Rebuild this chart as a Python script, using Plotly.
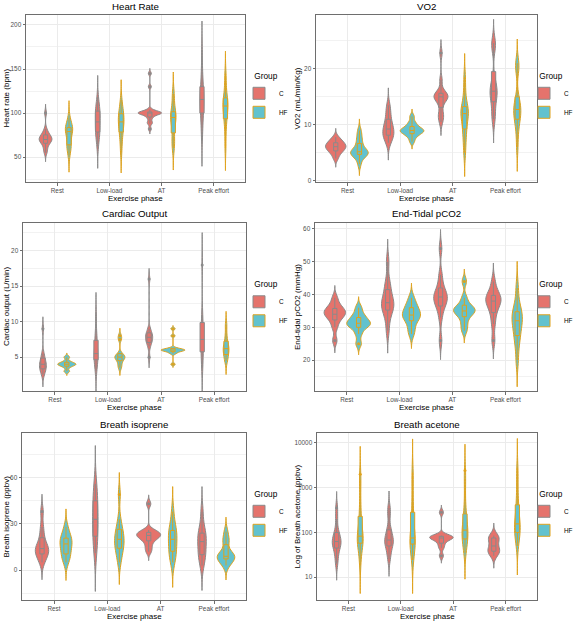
import numpy as np
import plotly.graph_objects as go

phases = ["Rest", "Low-load", "AT", "Peak effort"]
groups = ["C", "HF"]

# samples, one list per exercise phase
hr_c = [
    [55, 58, 62, 65, 66, 68, 69, 70, 70, 71, 72, 73, 75, 76, 78, 82, 100],
    [62, 70, 75, 78, 80, 84, 87, 90, 95, 98, 100, 103, 105, 110, 118],
    [82, 88, 90, 94, 96, 98, 99, 100, 100, 100, 100, 101, 101, 102, 104, 130, 145],
    [72, 85, 95, 100, 105, 110, 114, 117, 120, 124, 130, 138, 150, 172],
]
hr_hf = [
    [52, 58, 62, 63, 65, 70, 75, 78, 80, 81, 82, 83, 84, 86, 90, 95],
    [55, 65, 72, 78, 80, 85, 88, 90, 92, 95, 97, 100, 103, 108, 115],
    [60, 65, 68, 75, 85, 90, 93, 95, 96, 97, 100, 102, 110, 120, 122],
    [60, 75, 88, 92, 98, 102, 106, 108, 110, 112, 115, 118, 125, 135, 145],
]
vo2_c = [
    [4.0, 4.8, 5.2, 5.5, 5.8, 6.0, 6.2, 6.4, 6.6, 7.0, 7.2, 7.8],
    [6.8, 7.5, 8.0, 8.3, 8.6, 9.0, 9.5, 10.0, 10.5, 11.5, 12.5, 13.5],
    [10.5, 11.5, 12.0, 13.5, 14.5, 14.8, 15.0, 15.0, 15.2, 15.5, 16.0, 18.0, 22.8],
    [11.0, 11.5, 13.0, 14.5, 15.0, 15.5, 16.0, 16.5, 17.0, 18.0, 24.0, 24.3, 24.6],
]
vo2_hf = [
    [3.0, 4.2, 4.5, 4.8, 5.0, 5.0, 5.2, 5.4, 5.8, 6.5, 7.2, 8.0, 9.0],
    [7.0, 7.8, 8.2, 8.5, 8.7, 8.9, 9.0, 9.1, 9.3, 9.6, 10.0, 10.5, 11.5],
    [5.0, 7.0, 8.5, 9.5, 10.5, 11.5, 12.0, 12.3, 12.6, 13.0, 14.0, 16.0, 18.5],
    [6.0, 8.5, 10.0, 11.0, 11.5, 12.0, 12.5, 13.0, 13.5, 14.0, 15.0, 20.0, 20.5, 21.0],
]
co_c = [
    [2.5, 3.0, 3.3, 3.5, 3.8, 4.0, 4.2, 4.5, 5.0, 5.5, 9.0],
    [3.0, 4.0, 4.5, 5.0, 5.0, 5.5, 6.0, 7.0, 7.5, 8.5, 11.0],
    [5.0, 6.5, 7.0, 7.3, 7.5, 7.8, 8.0, 8.2, 8.5, 9.0, 16.0],
    [3.5, 5.0, 6.0, 7.0, 7.5, 8.0, 9.5, 11.0, 18.0],
]
co_hf = [
    [3.0, 3.0, 3.5, 3.7, 3.8, 3.9, 4.0, 4.0, 4.0, 4.1, 4.2, 4.3, 4.5, 5.0, 5.0],
    [3.5, 4.0, 4.5, 4.8, 5.0, 5.0, 5.2, 5.5, 7.5, 8.0],
    [4.0, 5.5, 5.7, 5.85, 5.95, 6.0, 6.0, 6.05, 6.15, 6.3, 8.0, 9.0],
    [4.5, 5.0, 5.5, 6.0, 6.2, 6.5, 7.0, 8.0, 9.5],
]
pco2_c = [
    [26, 30, 32, 33, 34, 34, 35, 35, 36, 37, 39],
    [29, 33, 35, 36, 37, 37.5, 38, 40, 42, 44, 50],
    [26, 33, 36, 37, 38, 39, 39.5, 40, 41, 43, 46, 54],
    [26, 31, 34, 36, 37, 38, 38.5, 39, 40, 41, 44],
]
pco2_hf = [
    [25, 28, 30, 30.5, 31, 31.5, 32, 33, 34, 36],
    [28, 30, 32, 33, 33.5, 34, 35, 36, 37, 39],
    [29, 31, 33, 34, 35, 35, 35.5, 36, 37, 39, 44],
    [20, 25, 27, 29, 31, 32, 33, 34, 35, 37, 42],
]
iso_c = [
    [5, 8, 10, 12, 13, 14, 15, 18, 22, 28, 38],
    [11, 17, 22, 27, 31, 35, 40, 45, 50, 56],
    [12, 15, 18, 20, 21, 22, 23, 23, 24, 25, 26, 43],
    [3, 8, 10, 13, 17, 20, 22, 24, 28, 38],
]
iso_hf = [
    [5, 8, 10, 12, 15, 17, 18, 20, 21, 24, 28],
    [5, 10, 14, 15, 18, 20, 22, 25, 27, 33, 49],
    [5, 8, 12, 13, 17, 20, 22, 25, 26, 30, 38],
    [3, 5, 7, 8, 9, 9, 10, 12, 18, 20, 25],
]
ace_c = [
    [20, 30, 40, 50, 55, 60, 65, 75, 90, 110, 200, 350],
    [25, 35, 45, 55, 60, 65, 70, 85, 100, 130, 250, 350],
    [30, 45, 55, 65, 72, 75, 78, 80, 82, 85, 280],
    [30, 35, 38, 40, 45, 55, 65, 75, 80, 85],
]
ace_hf = [
    [18, 28, 40, 50, 55, 60, 65, 70, 75, 80, 85, 95, 110, 140, 200, 260, 400, 800, 1500, 2000],
    [24, 30, 40, 48, 52, 58, 62, 66, 70, 72, 78, 90, 110, 160, 250, 320, 500, 1000, 1800, 2200],
    [35, 42, 52, 62, 68, 75, 85, 95, 105, 110, 115, 130, 160, 200, 240, 280, 450, 900, 1600, 2400],
    [50, 62, 75, 88, 95, 105, 120, 135, 145, 150, 160, 180, 220, 300, 380, 450, 700, 1200, 2000, 2800],
]

fills = {"C": "#E5736C", "HF": "#62C2CE"}
lines = {"C": "#8A8A8A", "HF": "#E0A21C"}

# panel: title, y title, C data, HF data, log?, y range, major dtick, minor dtick, box px (l, r, t, b)
panels = [
    ("Heart Rate", "Heart rate (bpm)", hr_c, hr_hf, False, [21.8, 211.3], 50, 25, (26, 245, 15, 182)),
    ("VO2", "VO2 (mL/min/Kg)", vo2_c, vo2_hf, False, [-0.2, 29.6], 10, 5, (316, 537, 15, 182)),
    ("Cardiac Output", "Cardiac output (L/min)", co_c, co_hf, False, [0.23, 23.9], 5, 2.5, (23, 246, 223, 391)),
    ("End-Tidal pCO2", "End-tidal pCO2 (mmHg)", pco2_c, pco2_hf, False, [10.6, 61.8], 10, 5, (315, 537, 223, 391)),
    ("Breath isoprene", "Breath isoprene (ppbv)", iso_c, iso_hf, False, [-19.4, 89], 30, 15, (22, 246, 433, 600)),
    ("Breath acetone", "Log of Breath acetone (ppbv)", ace_c, ace_hf, True, [0.49, 4.22], 1, 0.5, (317, 537, 433, 600)),
]

W, H = 575, 621


def px(p):
    return p / W


def py(p):
    return 1 - p / H


def nrd0(v):
    v = np.asarray(v, float)
    sd = v.std(ddof=1)
    q75, q25 = np.percentile(v, [75, 25])
    lo = min(sd, (q75 - q25) / 1.34)
    if lo <= 0:
        lo = sd
    return 0.9 * lo * len(v) ** -0.2


FONT = "Liberation Sans, Arial, sans-serif"
fig = go.Figure()
annotations = []
layout = {}

for k, (title, ytitle, dc, dhf, logy, yr, dt, mdt, box) in enumerate(panels, start=1):
    sfx = "" if k == 1 else str(k)
    l, r, t, b = box
    for g, data in zip(groups, [dc, dhf]):
        for j, ph in enumerate(phases):
            vals = np.log10(data[j]) if logy else np.asarray(data[j], float)
            bw = nrd0(vals)
            fig.add_trace(go.Violin(
                x=[ph] * len(vals), y=vals, name=g, legendgroup=g,
                showlegend=(j == 0), legend="legend" + sfx,
                offsetgroup=g, scalegroup="p%d" % k, scalemode="width",
                bandwidth=bw, spanmode="manual",
                span=[vals.min() - 3 * bw, vals.max() + 3 * bw],
                fillcolor=fills[g], line=dict(color=lines[g], width=1),
                box=dict(visible=True, width=0.18, fillcolor=fills[g],
                         line=dict(color=lines[g], width=1)),
                meanline_visible=False,
                points="outliers", pointpos=0, jitter=0,
                marker=dict(size=3, color=lines[g]),
                xaxis="x" + sfx, yaxis="y" + sfx, hoverinfo="skip",
            ))

    yax = dict(
        domain=[py(b), py(t)], anchor="x" + sfx, range=yr,
        showgrid=True, gridcolor="#EBEBEB", gridwidth=1,
        showline=True, mirror=True, linecolor="#6E6E6E", linewidth=1,
        ticks="outside", ticklen=2.5, tickcolor="#6E6E6E",
        tickfont=dict(size=6.4, color="#4D4D4D", family=FONT),
        zeroline=False,
    )
    if logy:
        yax.update(tickmode="array", tickvals=[1, 2, 3, 4],
                   ticktext=["10", "100", "1000", "10000"],
                   minor=dict(tickmode="array", tickvals=[0.5, 1.5, 2.5, 3.5],
                              showgrid=True, gridcolor="#F2F2F2", gridwidth=0.6, ticks=""))
    else:
        yax.update(dtick=dt, tick0=0,
                   minor=dict(dtick=mdt, tick0=0, showgrid=True,
                              gridcolor="#F2F2F2", gridwidth=0.6, ticks=""))
    layout["yaxis" + sfx] = yax
    layout["xaxis" + sfx] = dict(
        domain=[px(l), px(r)], anchor="y" + sfx, type="category",
        categoryorder="array", categoryarray=phases, range=[-0.6, 3.6],
        showgrid=True, gridcolor="#EBEBEB", gridwidth=1,
        showline=True, mirror=True, linecolor="#6E6E6E", linewidth=1,
        ticks="outside", ticklen=2.5, tickcolor="#6E6E6E",
        tickfont=dict(size=6.4, color="#4D4D4D", family=FONT),
    )

    cx = (l + r) / 2
    cy = (t + b) / 2
    annotations.append(dict(text=title, x=px(cx), y=py(t - 9), xref="paper", yref="paper",
                            showarrow=False, xanchor="center", yanchor="middle",
                            font=dict(size=9.7, color="black", family=FONT)))
    annotations.append(dict(text="Exercise phase", x=px(cx), y=py(b + 16.5), xref="paper", yref="paper",
                            showarrow=False, xanchor="center", yanchor="middle",
                            font=dict(size=8, color="black", family=FONT)))
    ytx = 6 if l < 100 else 297
    annotations.append(dict(text=ytitle, x=px(ytx), y=py(cy), xref="paper", yref="paper",
                            showarrow=False, xanchor="center", yanchor="middle", textangle=-90,
                            font=dict(size=8, color="black", family=FONT)))

    legx = 239 if l < 100 else 524
    layout["legend" + sfx] = dict(
        x=px(legx), y=py(cy - 1), xanchor="left", yanchor="middle",
        title=dict(text="Group", side="top center", font=dict(size=8.3, color="black", family=FONT)),
        font=dict(size=6.4, color="black", family=FONT),
        bgcolor="rgba(0,0,0,0)", tracegroupgap=0, itemclick=False,
    )

fig.update_layout(
    width=W, height=H, autosize=False,
    margin=dict(l=0, r=0, t=0, b=0, autoexpand=False),
    paper_bgcolor="white", plot_bgcolor="white",
    violinmode="group", violingap=0.1, violingroupgap=0,
    annotations=annotations, **layout,
)

# the page's default body margin would shift the figure by 8px
fig.write_html("out.html", config={"displayModeBar": False},
               post_script="document.body.style.margin='0px';")
